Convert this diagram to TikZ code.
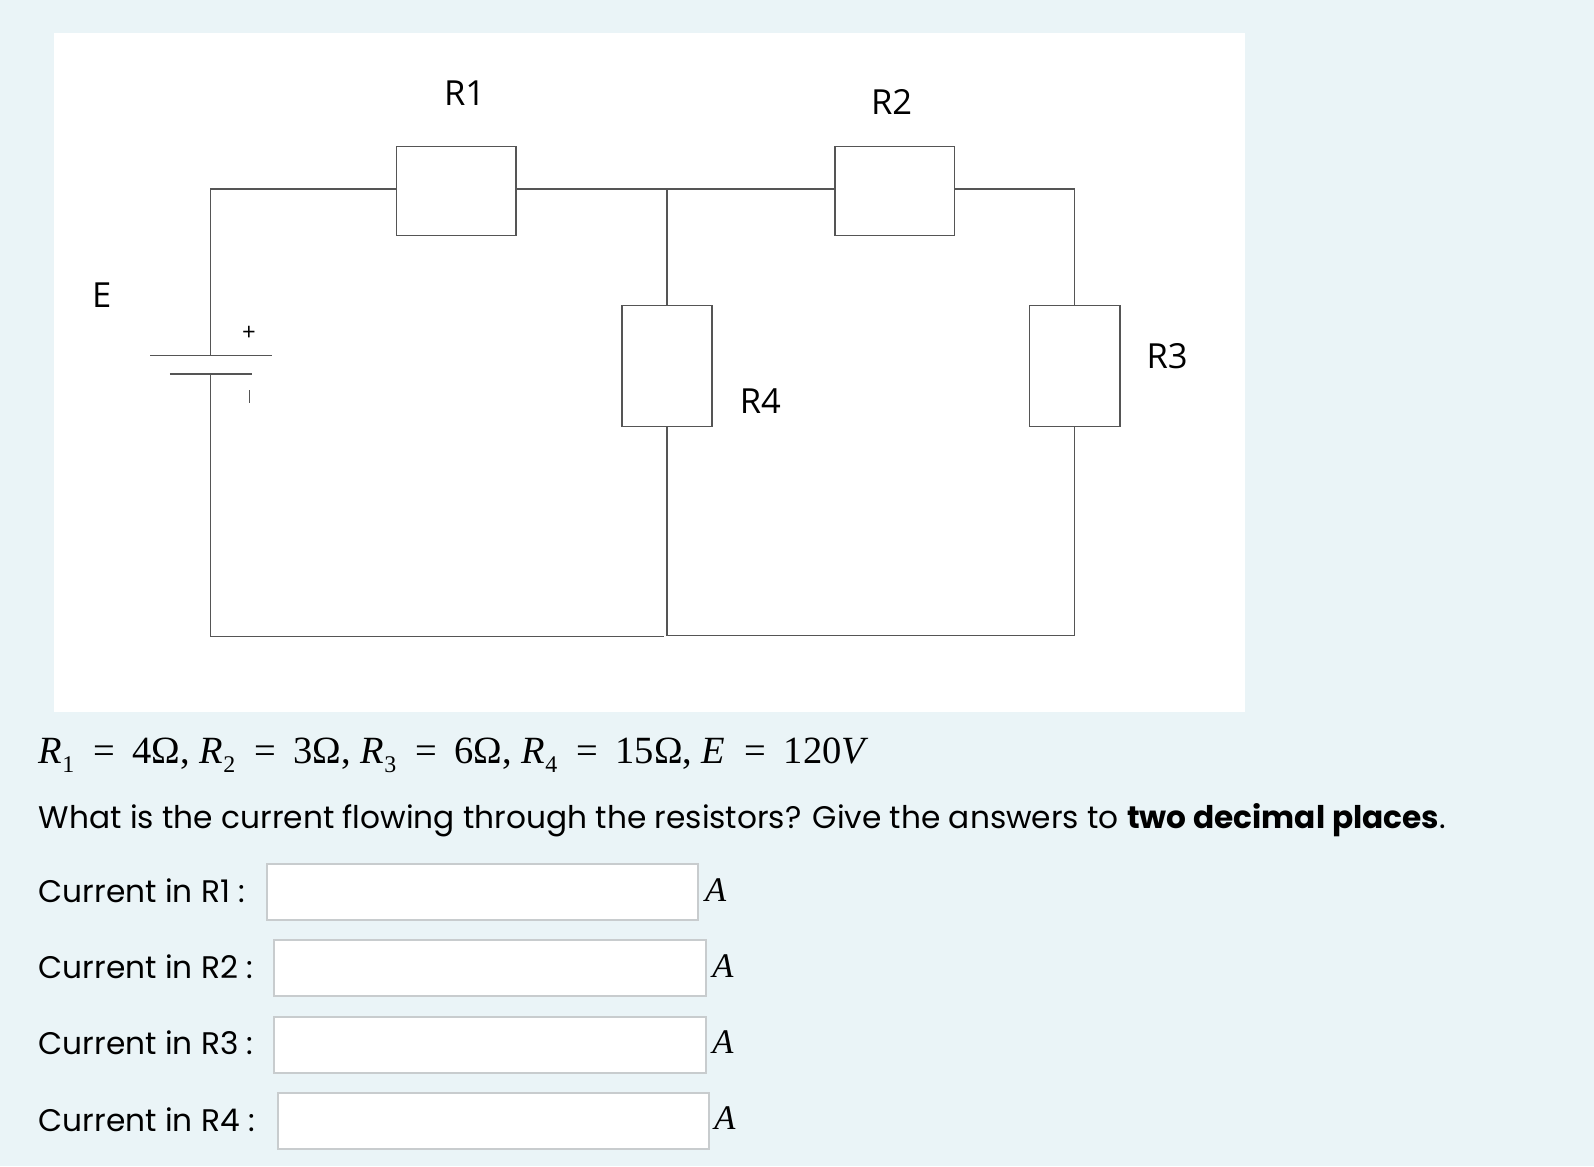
\documentclass[tikz,border=0pt]{standalone}
\usepackage{fontspec}
\setsansfont{Open Sans}
\newfontfamily\qfont{Poppins}
\newfontfamily\tfont{Liberation Serif}
\definecolor{bg}{HTML}{EAF4F7}
\definecolor{wire}{HTML}{555555}
\definecolor{boxg}{HTML}{C8CCCE}
\newcommand{\Rs}[1]{\textit{R}\raisebox{-0.25em}{\fontsize{18}{20}\selectfont #1}}
\newcommand{\eqs}{\hspace{0.5em}=\hspace{0.45em}}
\begin{document}
\begin{tikzpicture}[x=0.7653pt,y=-0.7653pt,
  res/.style={draw=wire,line width=1.2pt,fill=white},
  w/.style={draw=wire,line width=1pt},
  lbl/.style={font=\sffamily\fontsize{26}{30}\selectfont},
  q/.style={font=\qfont\fontsize{23.5}{28}\selectfont,anchor=west,inner sep=0},
  inbox/.style={draw=boxg,line width=1.5pt,fill=white},
  unit/.style={font=\tfont\itshape\fontsize{26}{30}\selectfont}]
\useasboundingbox (0,0) rectangle (1568,1147);
\fill[bg] (0,0) rectangle (1568,1147);
\fill[white] (53,32) rectangle (1225,700);
% wires
\coordinate (tl) at (207,186); \coordinate (tm) at (656,186); \coordinate (tr) at (1057,186);
\coordinate (bl) at (207,626); \coordinate (bm) at (656,625); \coordinate (br) at (1057,625);
\draw[w] (tl) -- (390,186) (508,186) -- (821,186) (939,186) -- (tr) -- (1057,300);
\draw[w] (1057,420) -- (br) -- (bm) -- (656,420) (656,300) -- (tm);
\draw[w] (bl) -- (653,626);
\draw[w] (tl) -- (207,350) (207,368) -- (bl);
\draw[w] (148,350) -- (268,350);
\draw[w] (167,368) -- (248,368);
\node[font=\sffamily\fontsize{18}{20}\selectfont] (plus) at (245,328) {+};
\draw[w,line width=0.8pt] (245,384) -- (245,396);
% resistors
\node[res,minimum width=90pt,minimum height=67pt] (R1) at (449,188) {};
\node[res,minimum width=90pt,minimum height=67pt] (R2) at (880,188) {};
\node[res,minimum width=68pt,minimum height=91pt] (R4) at (656,360) {};
\node[res,minimum width=68pt,minimum height=91pt] (R3) at (1057,360) {};
\node[lbl] (l1) at (457,92) {R1};
\node[lbl] (l2) at (877,100) {R2};
\node[lbl] (l4) at (748,395) {R4};
\node[lbl] (l3) at (1148,350) {R3};
\node[lbl] (lE) at (100,290) {E};
% text
\node[anchor=west,inner sep=0,font=\tfont\fontsize{29}{33}\selectfont] (eq) at (38,743)
 {\Rs{1}\eqs 4Ω, \Rs{2}\eqs 3Ω, \Rs{3}\eqs 6Ω, \Rs{4}\eqs 15Ω, \textit{E}\eqs 120\textit{V}};
\node[q] (qq) at (38,807) {What is the current flowing through the resistors? Give the answers to \textbf{two decimal places}.};
\node[q] (c1) at (38,876) {Current in R1 :};
\node[q] (c2) at (38,951) {Current in R2 :};
\node[q] (c3) at (38,1026) {Current in R3 :};
\node[q] (c4) at (38,1101) {Current in R4 :};
\draw[inbox] (263,850) rectangle (687,905);
\draw[inbox] (270,925) rectangle (694,980);
\draw[inbox] (270,1000) rectangle (694,1055);
\draw[inbox] (273,1075) rectangle (697,1130);
\node[unit] (a1) at (704,876) {A};
\node[unit] (a2) at (711,950) {A};
\node[unit] (a3) at (711,1025) {A};
\node[unit] (a4) at (713,1100) {A};
\end{tikzpicture}
\end{document}
